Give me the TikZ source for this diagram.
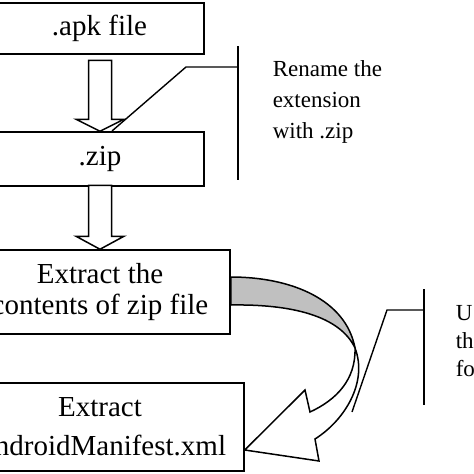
\documentclass[tikz,border=0pt]{standalone}
\usepackage{fontspec}
\setmainfont{Liberation Serif}
\usetikzlibrary{calc}
\definecolor{ribbon}{RGB}{192,192,192}
\begin{document}
\begin{tikzpicture}[x=1pt,y=-1pt,line width=1.5pt,
  box/.style={draw,line width=1.5pt,inner sep=0pt,align=center,font=\fontsize{29}{31}\selectfont},
  blockarrow/.style={draw,fill=white,line join=miter},
  callout/.style={line width=1.4pt},
  note/.style={inner sep=0pt,align=left,anchor=north west}]
\useasboundingbox (0,0) rectangle (474,474);
% boxes
\node[box,minimum width=209pt,minimum height=51pt] (apk) at (99.5,28.5) {\raisebox{-4pt}{.apk file}};
\node[box,minimum width=208pt,minimum height=54pt] (zip) at (100,159) {\raisebox{-5pt}{.zip}};
\node[box,minimum width=258pt,minimum height=84pt] (ext) at (100,292) {\raisebox{-3pt}{\parbox{260pt}{\centering Extract the\\contents of zip file}}};
\node[box,minimum width=288pt,minimum height=88pt,font=\fontsize{29}{39}\selectfont] (man) at (100,427) {Extract\\AndroidManifest.xml};
% block arrows
\draw[blockarrow] (zip.north) -- ++(24,-12) -- ++(-12.5,0) -- ++(0,-59) -- ++(-23,0) -- ++(0,59) -- ++(-12.5,0) -- cycle;
\draw[blockarrow] (ext.north) -- ++(24,-13) -- ++(-12.5,0) -- ++(0,-51) -- ++(-23,0) -- ++(0,51) -- ++(-12.5,0) -- cycle;
% curved ribbon arrow
\coordinate (cross) at (355,348);
\draw[fill=ribbon,line join=round] ($(ext.east)+(0,-15)$) .. controls (292,277) and (346,300) .. (cross)
  .. controls (340,316) and (292,304) .. ($(ext.east)+(0,13)$) -- cycle;
\draw[fill=white,line join=miter] (cross) .. controls (356,380) and (336,400) .. (310,412)
  -- (305,390) -- ($(man.east)+(0,23)$) -- (319,461) -- (315,439)
  .. controls (345,420) and (368,382) .. (cross) -- cycle;
% callout 1
\coordinate (b1top) at (238,46);
\coordinate (b1bot) at (238,180);
\coordinate (b1mid) at (238,67);
\coordinate (k1) at (186,67);
\coordinate (p1) at (112,131);
\draw[callout] (b1top) -- (b1bot);
\draw[callout] (b1mid) -- (k1) -- (p1);
\node[note,font=\fontsize{23}{31}\selectfont] (n1) at (272,60) {Rename the\\extension\\with .zip};
% callout 2
\coordinate (b2top) at (424,289);
\coordinate (b2bot) at (424,405);
\coordinate (b2mid) at (424,310);
\coordinate (k2) at (387,310);
\coordinate (p2) at (352,412);
\draw[callout] (b2top) -- (b2bot);
\draw[callout] (b2mid) -- (k2) -- (p2);
\node[note,font=\fontsize{23}{28}\selectfont] (n2) at (455,304.5) {U\\th\\fo};
\end{tikzpicture}
\end{document}
